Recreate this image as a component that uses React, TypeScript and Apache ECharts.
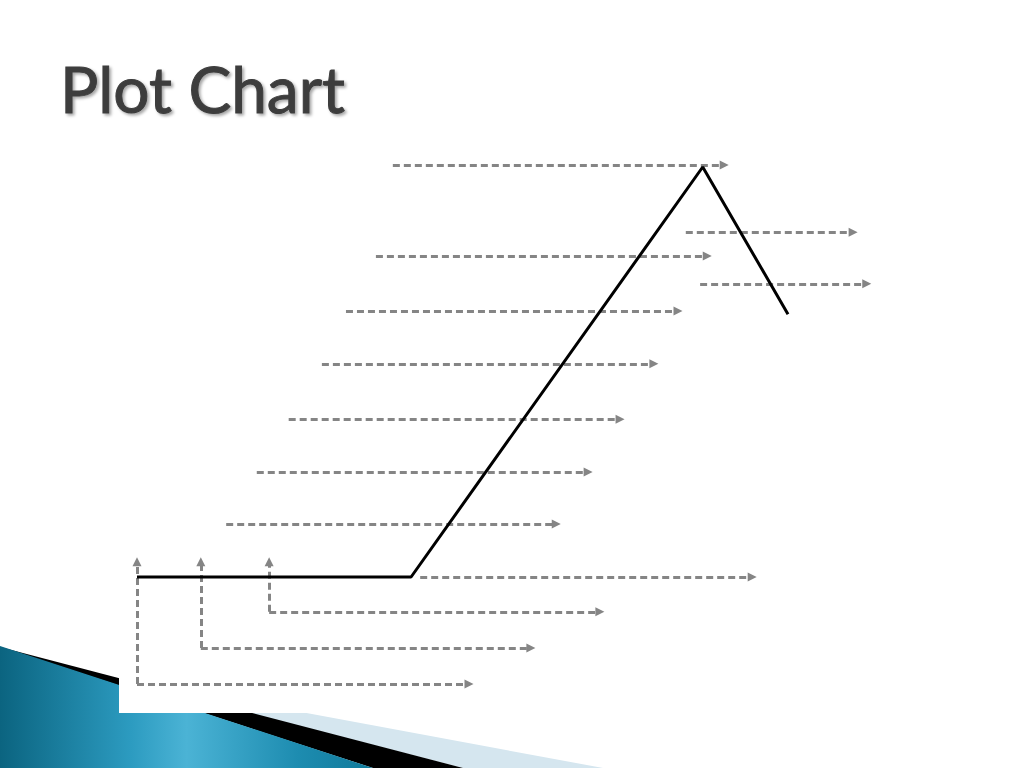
import React, { useEffect, useRef } from 'react';
import * as echarts from 'echarts';

// story progress (x) and tension (y) of the plot line
const plotX = [0, 4.21, 8.69, 10];
const plotY = [0, 0, 10, 6.41];

// dashed label arrows: y level, start x, arrow tip x
const arrowY = [10.05, 8.41, 7.83, 7.15, 6.49, 5.2, 3.85, 2.56, 1.29, 0, -0.85, -1.73, -2.61];
const arrowFromX = [3.93, 8.43, 3.67, 8.65, 3.21, 2.84, 2.33, 1.84, 1.37, 4.35, 2.03, 0.98, 0];
const arrowToX = [9.02, 11.0, 8.76, 11.21, 8.31, 7.94, 7.42, 6.93, 6.44, 9.45, 7.11, 6.05, 5.1];

// upward risers of the three bottom arrows
const riserX = [0, 0.98, 2.03];
const riserFromY = [-2.61, -1.73, -0.85];
const riserToY = [0.37, 0.37, 0.37];

export default function App() {
    const chartRef = useRef<HTMLDivElement>(null);

    useEffect(() => {
        const chart = echarts.init(chartRef.current!, null, { renderer: 'svg' });

        const arrows = arrowY.map((y, i) => ({ coords: [[arrowFromX[i], y], [arrowToX[i], y]] }));
        const risers = riserX.map((x, i) => ({ coords: [[x, riserFromY[i]], [x, riserToY[i]]] }));

        chart.setOption({
            animation: false,
            title: {
                text: 'Plot Chart',
                left: 55,
                top: 51,
                textStyle: {
                    fontFamily: 'Lato',
                    fontSize: 64,
                    fontWeight: 'normal',
                    color: '#3e3e3e',
                    textBorderColor: '#3e3e3e',
                    textBorderWidth: 1,
                    textShadowColor: 'rgba(0,0,0,0.35)',
                    textShadowBlur: 3,
                    textShadowOffsetX: 2,
                    textShadowOffsetY: 2,
                },
            },
            graphic: [
                {
                    type: 'polygon',
                    shape: { points: [[96, 674], [603, 768], [463, 768]] },
                    style: { fill: '#d5e6ef' },
                },
                {
                    type: 'polygon',
                    shape: { points: [[0, 647], [463, 768], [373, 768]] },
                    style: { fill: '#000' },
                },
                {
                    type: 'polygon',
                    shape: { points: [[0, 646], [373, 768], [0, 768]] },
                    style: {
                        fill: new echarts.graphic.LinearGradient(0, 0, 1, 0, [
                            { offset: 0, color: '#0b6480' },
                            { offset: 0.35, color: '#2c9bc0' },
                            { offset: 0.5, color: '#4bb3d5' },
                            { offset: 0.8, color: '#1d8cb0' },
                            { offset: 1, color: '#107a9a' },
                        ]),
                    },
                },
                {
                    type: 'rect',
                    shape: { x: 119, y: 140, width: 905, height: 573 },
                    style: { fill: '#fff' },
                },
            ],
            grid: { left: 137, top: 167, width: 651, height: 410 },
            xAxis: { type: 'value', min: 0, max: 10, show: false },
            yAxis: { type: 'value', min: 0, max: 10, show: false },
            series: [
                {
                    type: 'lines',
                    coordinateSystem: 'cartesian2d',
                    silent: true,
                    clip: false,
                    symbol: ['none', 'triangle'],
                    symbolSize: 9,
                    lineStyle: { color: '#858585', width: 3, type: [7, 4], opacity: 1 },
                    data: [...arrows, ...risers],
                    z: 2,
                },
                {
                    type: 'line',
                    silent: true,
                    clip: false,
                    symbol: 'none',
                    lineStyle: { color: '#000', width: 3 },
                    data: plotX.map((x, i) => [x, plotY[i]]),
                    z: 3,
                },
            ],
        });

        return () => {
            chart.dispose();
        };
    }, []);

    return (
        <div
            ref={chartRef}
            style={{ position: 'fixed', left: 0, top: 0, width: 1024, height: 768, background: '#fff' }}
        />
    );
}
